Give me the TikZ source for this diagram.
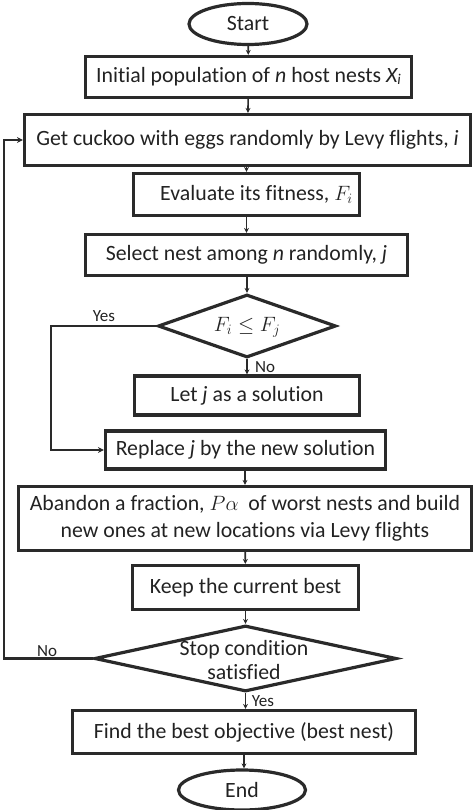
\documentclass[tikz,border=0pt]{standalone}
\usepackage{fontspec}
\setmainfont{Carlito}[Ligatures=NoCommon]
\usetikzlibrary{shapes.geometric,arrows.meta}
\definecolor{ink}{HTML}{222222}
\definecolor{linec}{HTML}{2A2A2A}
\begin{document}
\begin{tikzpicture}[x=1pt,y=-1pt,
  every node/.style={text=ink},
  box/.style={draw=linec, line width=3.2pt, rectangle, inner sep=0pt, align=center,
    font=\fontsize{21.8}{27}\selectfont},
  term/.style={draw=linec, line width=3.2pt, ellipse, inner sep=0pt,
    font=\fontsize{21.8}{27}\selectfont},
  dia/.style={draw=linec, line width=3.2pt, diamond, inner sep=0pt},
  dtext/.style={align=center, inner sep=0pt, font=\fontsize{21.8}{24}\selectfont},
  lab/.style={inner sep=0pt, font=\fontsize{17}{19}\selectfont},
  arr/.style={draw=linec, line width=1.6pt, -{Stealth[length=5pt,width=5pt]}},
  loop/.style={draw=linec, line width=2.6pt, -{Stealth[length=6pt,width=6pt]}}
]
\useasboundingbox (0,0) rectangle (474,810);

\node[term, minimum width=118pt, minimum height=41pt] (start) at (248,24) {Start};
\node[box, minimum width=326pt, minimum height=41pt] (init) at (248.5,77)
  {Initial population of \textit{n} host nests \textit{X\raisebox{-0.2ex}{\fontsize{15}{15}\selectfont i}}};
\node[box, minimum width=446pt, minimum height=51pt] (get) at (247.5,140)
  {Get cuckoo with eggs randomly by Levy flights, \textit{i}};
\node[box, minimum width=226pt, minimum height=42pt] (eval) at (246.5,194.5)
  {\hspace*{20pt}Evaluate its fitness, $F_i$};
\node[box, minimum width=322pt, minimum height=41pt] (sel) at (246.5,255)
  {Select nest among \textit{n} randomly, \textit{j}};
\node[dia, minimum width=178pt, minimum height=63pt] (d1) at (247,326) {};
\node[dtext] (d1t) at (247,327) {$F_i \le F_j$};
\node[box, minimum width=225pt, minimum height=39pt] (letj) at (247,395.5)
  {Let \textit{j} as a solution};
\node[box, minimum width=280pt, minimum height=38pt] (rep) at (245.5,450)
  {Replace \textit{j} by the new solution};
\node[box, minimum width=453pt, minimum height=64pt] (aban) at (245,518.5)
  {Abandon a fraction, $P\alpha$ \ of worst nests and build\\new ones at new locations via Levy flights};
\node[box, minimum width=226pt, minimum height=44pt] (keep) at (245.5,587.5)
  {Keep the current best};
\node[dia, minimum width=302pt, minimum height=66pt] (d2) at (245.5,658.5) {};
\node[dtext] (d2t) at (244,660) {Stop condition\\satisfied};
\node[box, minimum width=343pt, minimum height=43pt] (find) at (244,732)
  {Find the best objective (best nest)};
\node[term, minimum width=127pt, minimum height=40pt] (end) at (242,790) {End};

\node[lab] (yes1) at (104,316) {Yes};
\node[lab] (no1) at (265,367) {No};
\node[lab] (no2) at (47,651) {No};
\node[lab] (yes2) at (263,701) {Yes};

\coordinate (c1) at (51,326);
\coordinate (c2) at (51,450);
\coordinate (c3) at (4,658.5);
\coordinate (c4) at (4,140);

\draw[arr] (start) -- (init);
\draw[arr] (init) -- (get);
\draw[arr] (get.south -| eval.north) -- (eval);
\draw[arr] (eval) -- (sel.north -| eval.south);
\draw[arr] (sel.south -| d1.north) -- (d1);
\draw[arr] (d1) -- (letj);
\draw[arr] (rep.south -| aban.north) -- (aban);
\draw[arr] (aban) -- (keep);
\draw[arr] (keep) -- (d2);
\draw[arr] (d2) -- (d2.south |- find.north);
\draw[arr] (find) -- (end.north -| find.south);

\draw[loop] (d1.west) -- (c1) -- (c2) -- (rep.west);
\draw[loop] (d2.west) -- (c3) -- (c4) -- (get.west);
\end{tikzpicture}
\end{document}
